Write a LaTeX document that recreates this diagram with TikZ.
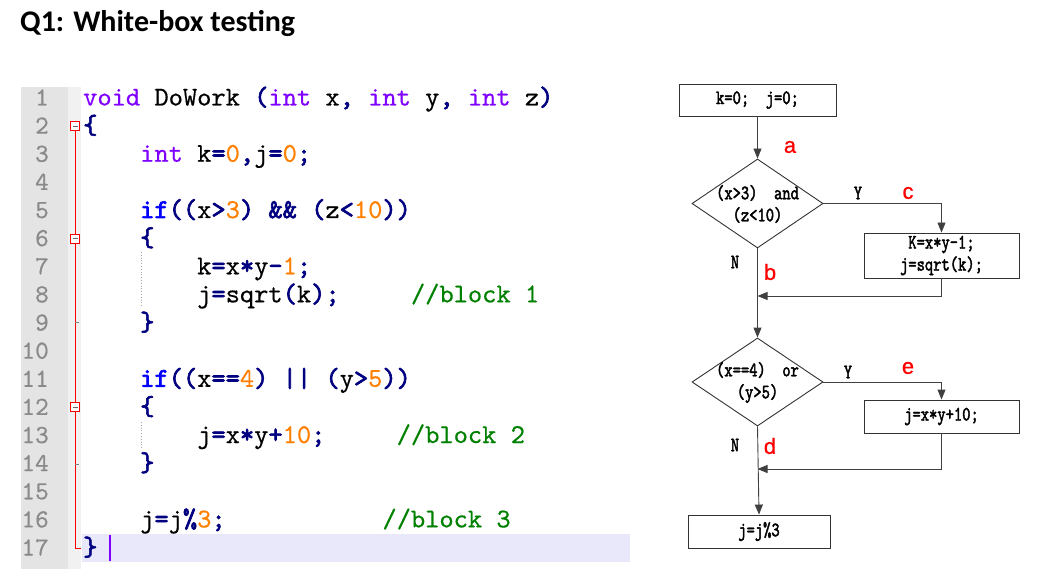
\documentclass[tikz,border=0pt]{standalone}
\usepackage{fontspec}
\usetikzlibrary{shapes.geometric,arrows.meta}
\newfontfamily\codefont{lmmono10-regular.otf}[FakeBold=0.5]
\newfontfamily\codebf{lmmono10-regular.otf}[FakeBold=2.5]
\newfontfamily\fcfont{lmmono10-regular.otf}[FakeStretch=0.77,FakeBold=2]
\newfontfamily\titlefont{Carlito}
\newfontfamily\lblfont{Liberation Sans}[FakeBold=0.8]
\definecolor{typekw}{HTML}{8000FF}
\definecolor{ifcol}{HTML}{0000FF}
\definecolor{opcol}{HTML}{000080}
\definecolor{numcol}{HTML}{FF8000}
\definecolor{cmcol}{HTML}{008000}
\definecolor{lncol}{HTML}{8A8A8A}
\definecolor{gutter}{HTML}{E4E4E4}
\definecolor{foldbg}{HTML}{F1F1F1}
\definecolor{hlcol}{HTML}{E8E8FA}
\definecolor{cursorcol}{HTML}{8000FF}
\newcommand\kw[1]{\textcolor{typekw}{#1}}
\newcommand\op[1]{\textcolor{opcol}{\codebf #1}}
\newcommand\nm[1]{\textcolor{numcol}{#1}}
\newcommand\ifk[1]{\textcolor{ifcol}{\codebf #1}}
\newcommand\cm[1]{\textcolor{cmcol}{#1}}
\newcommand\codeline[4]{\node[code] (#1) at ({83+14.25*#2},{-(105.5+28.125*(#3-1))}) {#4};}
\tikzset{
  code/.style={anchor=base west, inner sep=0pt, font=\codefont\fontsize{27.14}{28}\selectfont\frenchspacing},
  lnum/.style={anchor=base east, inner sep=0pt, text=lncol, font=\codefont\fontsize{26}{28}\selectfont},
  foldbox/.style={draw=red, fill=white, rectangle, minimum width=9pt, minimum height=9pt, inner sep=0pt, line width=0.8pt},
  fcbox/.style={draw=black!80, rectangle, line width=0.9pt, inner sep=0pt, align=center, font=\fcfont\fontsize{20.5}{22}\selectfont},
  fcdia/.style={draw=black!80, diamond, line width=0.9pt, inner sep=0pt},
  fctext/.style={inner sep=0pt, align=center, font=\fcfont\fontsize{20.5}{22}\selectfont},
  redlbl/.style={inner sep=0pt, text=red, font=\lblfont\fontsize{22}{22}\selectfont},
  arr/.style={-{Triangle[length=10pt,width=8pt]}, line width=0.9pt, draw=black!75},
  ln/.style={line width=0.9pt, draw=black!75}
}
\begin{document}
\begin{tikzpicture}[x=1pt,y=1pt]
\useasboundingbox (0,0) rectangle (1052,-572);
% title
\node[anchor=base west, inner sep=0pt, font=\titlefont\bfseries\fontsize{30}{32}\selectfont] (title) at (20,-32) {Q1: White-box testing};
% editor background
\fill[gutter] (21,-87) rectangle (68,-569);
\fill[foldbg] (68,-87) rectangle (81,-569);
\fill[hlcol] (82,-534) rectangle (630,-562);
\draw[cursorcol, line width=1.5pt] (110,-535) -- (110,-561);
% line numbers
\foreach \i in {1,...,17} \node[lnum] (ln\i) at (49,{-(105.5+28.125*(\i-1))}) {\i};
% fold margin
\draw[red, line width=0.8pt] (75,-130) -- (75,-548) -- (81,-548);
\foreach \l in {2,6,12} {
  \node[foldbox] (fb\l) at (75,{-(98+28.125*(\l-1))}) {};
  \draw[black!60, line width=0.8pt] ([xshift=-2.5pt]fb\l.center) -- ([xshift=2.5pt]fb\l.center);
}
\draw[black!50, line width=0.8pt] (75,-322) -- (79,-322);
\draw[black!50, line width=0.8pt] (75,-464) -- (79,-464);
% indentation guides
\draw[black!35, dotted, line width=0.8pt] (141,-252) -- (141,-308);
\draw[black!35, dotted, line width=0.8pt] (141,-422) -- (141,-450);
% code
\codeline{c1}{0}{1}{\kw{void} DoWork \op{(}\kw{int} x\op{,} \kw{int} y\op{,} \kw{int} z\op{)}}
\codeline{c2}{0}{2}{\op{\{}}
\codeline{c3}{4}{3}{\kw{int} k\op{=}\nm{0}\op{,}j\op{=}\nm{0}\op{;}}
\codeline{c5}{4}{5}{\ifk{if}\op{((}x\op{>}\nm{3}\op{)} \op{\&\&} \op{(}z\op{<}\nm{10}\op{))}}
\codeline{c6}{4}{6}{\op{\{}}
\codeline{c7}{8}{7}{k\op{=}x\op{*}y\op{-}\nm{1}\op{;}}
\codeline{c8}{8}{8}{j\op{=}sqrt\op{(}k\op{);}}
\codeline{c8c}{23}{8}{\cm{//block 1}}
\codeline{c9}{4}{9}{\op{\}}}
\codeline{c11}{4}{11}{\ifk{if}\op{((}x\op{==}\nm{4}\op{)} \op{||} \op{(}y\op{>}\nm{5}\op{))}}
\codeline{c12}{4}{12}{\op{\{}}
\codeline{c13}{8}{13}{j\op{=}x\op{*}y\op{+}\nm{10}\op{;}}
\codeline{c13c}{22}{13}{\cm{//block 2}}
\codeline{c14}{4}{14}{\op{\}}}
\codeline{c16}{4}{16}{j\op{=}j\op{\%}\nm{3}\op{;}}
\codeline{c16c}{21}{16}{\cm{//block 3}}
\codeline{c17}{0}{17}{\op{\}}}
% flowchart
\node[fcbox, minimum width=157pt, minimum height=32pt] (b1) at (757.5,-100) {k=0;~~j=0;};
\node[fcdia, minimum width=131pt, minimum height=89pt] (d1) at (757.5,-203.5) {};
\node[fctext] (d1t) at (757.5,-204) {(x>3)~~and\\(z<10)};
\node[fcbox, minimum width=155pt, minimum height=45pt] (b2) at (941.5,-255.5) {K=x*y-1;\\j=sqrt(k);};
\node[fcdia, minimum width=131pt, minimum height=88pt] (d2) at (757.5,-382) {};
\node[fctext] (d2t) at (757.5,-382.5) {(x==4)~~or\\(y>5)};
\node[fcbox, minimum width=155pt, minimum height=33pt] (b3) at (941.5,-416.5) {j=x*y+10;};
\node[fcbox, minimum width=142pt, minimum height=33pt] (b4) at (759,-531.5) {j=j\%3};
\coordinate (j1) at (757.5,-296);
\coordinate (j2) at (757.5,-469);
\draw[arr] (b1.south) -- (d1.north);
\draw[arr] (d1.east) -| (b2.north);
\draw[arr] (b2.south) |- (j1);
\draw[arr] (d1.south) -- (d2.north);
\draw[arr] (d2.east) -| (b3.north);
\draw[arr] (b3.south) |- (j2);
\draw[arr] (d2.south) -- (b4.north);
% labels
\node[redlbl] (la) at (790,-147) {a};
\node[redlbl] (lb) at (770,-272) {b};
\node[redlbl] (lc) at (908,-193) {c};
\node[redlbl] (ld) at (770,-446) {d};
\node[redlbl] (le) at (908,-368) {e};
\node[fctext] (y1) at (858,-193) {Y};
\node[fctext] (y2) at (848,-372) {Y};
\node[fctext] (n1) at (735,-262) {N};
\node[fctext] (n2) at (735,-445) {N};
\end{tikzpicture}
\end{document}
